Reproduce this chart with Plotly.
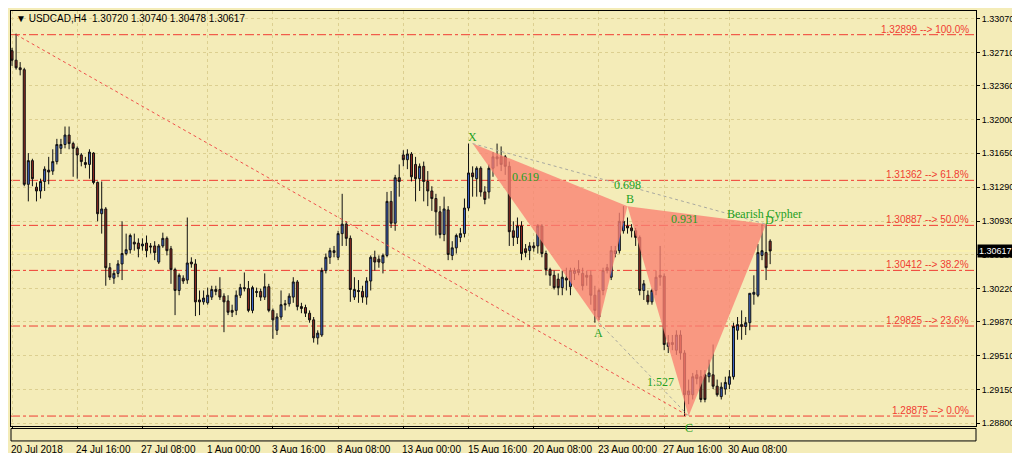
import plotly.graph_objects as go

opens = [1.3273,1.3263,1.3255,1.3253,1.3132,1.3157,1.3129,1.3125,1.3135,1.3147,1.3146,1.3156,1.3170,1.3174,1.3184,1.3175,1.3170,1.3163,1.3155,1.3153,
1.3165,1.3134,1.3101,1.3106,1.3044,1.3033,1.3038,1.3048,1.3059,1.3063,1.3071,1.3070,1.3067,1.3070,1.3067,1.3067,1.3050,1.3067,1.3075,1.3064,
1.3042,1.3020,1.3033,1.3031,1.3050,1.3048,1.3010,1.3008,1.3007,1.3013,1.3021,1.3021,1.3014,1.3009,1.2999,1.2999,1.3015,1.3023,1.3022,1.2999,
1.3019,1.3019,1.3013,1.3024,1.2999,1.2978,1.2992,1.3006,1.3006,1.3013,1.3029,1.3003,1.3002,1.2996,1.2989,1.2970,1.2973,1.3041,1.3055,1.3062,
1.3055,1.3080,1.3090,1.3075,1.3013,1.3020,1.3019,1.3013,1.3030,1.3055,1.3053,1.3049,1.3057,1.3114,1.3091,1.3139,1.3163,1.3158,1.3164,1.3153,
1.3138,1.3151,1.3135,1.3125,1.3117,1.3103,1.3079,1.3105,1.3057,1.3065,1.3076,1.3080,1.3107,1.3144,1.3138,1.3149,1.3124,1.3124,1.3149,1.3161,
1.3161,1.3161,1.3151,1.3083,1.3076,1.3088,1.3064,1.3062,1.3067,1.3067,1.3088,1.3059,1.3042,1.3036,1.3032,1.3023,1.3033,1.3024,1.3038,1.3042,
1.3038,1.3036,1.3036,1.3015,1.2992,1.3020,1.3044,1.3034,1.3059,1.3062,1.3083,1.3088,1.3086,1.3083,1.3076,1.3020,1.3015,1.3008,1.3020,1.3036,
1.3035,1.2961,1.2965,1.2957,1.2973,1.2954,1.2910,1.2910,1.2931,1.2929,1.2931,1.2929,1.2931,1.2919,1.2908,1.2916,1.2921,1.2929,1.2978,1.2984,
1.2982,1.2986,1.3016,1.3015,1.3057,1.3060,1.30720]
highs = [1.3276,1.3291,1.3261,1.3255,1.3165,1.3159,1.3134,1.3138,1.3151,1.3161,1.3169,1.3180,1.3180,1.3193,1.3193,1.3177,1.3172,1.3165,1.3161,1.3169,
1.3166,1.3135,1.3135,1.3108,1.3049,1.3041,1.3052,1.3093,1.3080,1.3080,1.3080,1.3075,1.3075,1.3078,1.3070,1.3072,1.3069,1.3081,1.3077,1.3067,
1.3044,1.3038,1.3036,1.3097,1.3055,1.3053,1.3020,1.3020,1.3023,1.3025,1.3025,1.3034,1.3017,1.3015,1.3005,1.3020,1.3027,1.3039,1.3030,1.3025,
1.3023,1.3022,1.3038,1.3027,1.3001,1.2996,1.3020,1.3010,1.3017,1.3034,1.3031,1.3007,1.3005,1.2999,1.2992,1.2978,1.3044,1.3059,1.3065,1.3067,
1.3083,1.3122,1.3093,1.3078,1.3034,1.3031,1.3025,1.3034,1.3057,1.3062,1.3057,1.3059,1.3124,1.3125,1.3142,1.3153,1.3168,1.3169,1.3166,1.3161,
1.3154,1.3156,1.3146,1.3130,1.3122,1.3109,1.3119,1.3109,1.3072,1.3080,1.3086,1.3117,1.3175,1.3151,1.3151,1.3151,1.3130,1.3153,1.3166,1.3175,
1.3172,1.3163,1.3156,1.3093,1.3097,1.3093,1.3069,1.3071,1.3071,1.3090,1.3090,1.3062,1.3044,1.3041,1.3038,1.3041,1.3044,1.3044,1.3044,1.3052,
1.3044,1.3041,1.3041,1.3025,1.3022,1.3044,1.3048,1.3067,1.3067,1.3102,1.3109,1.3097,1.3090,1.3086,1.3078,1.3031,1.3020,1.3022,1.3041,1.3067,
1.3038,1.2973,1.2973,1.2978,1.2978,1.2957,1.2926,1.2933,1.2936,1.2936,1.2936,1.2947,1.2963,1.2926,1.2923,1.2929,1.2936,1.2986,1.2992,1.2999,
1.2992,1.3017,1.3036,1.3069,1.3090,1.3090,1.30740]
lows = [1.3257,1.3253,1.3247,1.3130,1.3114,1.3130,1.3114,1.3117,1.3125,1.3132,1.3142,1.3153,1.3164,1.3170,1.3169,1.3140,1.3138,1.3151,1.3149,1.3138,
1.3132,1.3093,1.3080,1.3025,1.3031,1.3027,1.3034,1.3031,1.3057,1.3059,1.3062,1.3055,1.3062,1.3055,1.3059,1.3052,1.3048,1.3065,1.3057,1.3027,
1.2994,1.3015,1.3027,1.3027,1.3044,1.2993,1.2994,1.3005,1.3005,1.3010,1.3015,1.3010,1.2976,1.2994,1.2992,1.2994,1.3012,1.3019,1.2997,1.2996,
1.3013,1.3009,1.3010,1.2997,1.2969,1.2973,1.2989,1.2999,1.3003,1.3007,1.2999,1.2996,1.2992,1.2986,1.2965,1.2963,1.2971,1.3038,1.3048,1.3055,
1.3052,1.3067,1.3067,1.3008,1.3010,1.3007,1.3007,1.3005,1.3020,1.3041,1.3044,1.3038,1.3055,1.3086,1.3083,1.3119,1.3151,1.3148,1.3135,1.3114,
1.3125,1.3114,1.3109,1.3104,1.3078,1.3075,1.3072,1.3052,1.3052,1.3059,1.3071,1.3076,1.3104,1.3119,1.3119,1.3119,1.3111,1.3117,1.3140,1.3151,
1.3146,1.3142,1.3067,1.3067,1.3069,1.3052,1.3055,1.3052,1.3061,1.3059,1.3055,1.3036,1.3025,1.3021,1.3015,1.3015,1.3020,1.3015,1.3031,1.3036,
1.3020,1.3025,1.3005,1.2986,1.2989,1.3015,1.3038,1.3031,1.3055,1.3059,1.3080,1.3080,1.3076,1.3067,1.3015,1.3010,1.3005,1.3005,1.3015,1.3025,
1.2957,1.2954,1.2957,1.2952,1.2947,1.28875,1.2900,1.2905,1.2921,1.2902,1.2902,1.2923,1.2916,1.2908,1.2905,1.2910,1.2916,1.2926,1.2968,1.2968,
1.2973,1.2978,1.3005,1.3013,1.3052,1.3031,1.30478]
closes = [1.3263,1.3255,1.3253,1.3132,1.3157,1.3138,1.3125,1.3135,1.3148,1.3145,1.3156,1.3174,1.3174,1.3184,1.3175,1.3170,1.3163,1.3156,1.3153,1.3166,
1.3134,1.3101,1.3106,1.3044,1.3034,1.3038,1.3048,1.3059,1.3063,1.3078,1.3069,1.3064,1.3069,1.3062,1.3066,1.3060,1.3067,1.3075,1.3062,1.3042,
1.3020,1.3036,1.3030,1.3049,1.3048,1.3008,1.3008,1.3012,1.3015,1.3021,1.3019,1.3013,1.3008,1.2997,1.2997,1.3015,1.3023,1.3022,1.2999,1.3023,
1.3018,1.3013,1.3024,1.2999,1.2989,1.2992,1.3005,1.3005,1.3014,1.3029,1.3003,1.3001,1.2996,1.2989,1.2970,1.2975,1.3041,1.3055,1.3062,1.3060,
1.3080,1.3090,1.3075,1.3021,1.3021,1.3019,1.3013,1.3030,1.3055,1.3050,1.3050,1.3057,1.3114,1.3091,1.3139,1.3135,1.3158,1.3164,1.3140,1.3138,
1.3151,1.3135,1.3125,1.3117,1.3103,1.3079,1.3106,1.3058,1.3065,1.3078,1.3080,1.3107,1.3144,1.3140,1.3149,1.3124,1.3116,1.3149,1.3161,1.3159,
1.3153,1.3151,1.3082,1.3076,1.3088,1.3059,1.3060,1.3067,1.3065,1.3088,1.3059,1.3042,1.3036,1.3023,1.3023,1.3034,1.3031,1.3041,1.3041,1.3039,
1.3025,1.3034,1.3015,1.2999,1.3020,1.3041,1.3041,1.3062,1.3062,1.3093,1.3093,1.3086,1.3083,1.3076,1.3020,1.3027,1.3008,1.3020,1.3034,1.3034,
1.2963,1.2965,1.2963,1.2973,1.2954,1.2910,1.2914,1.2929,1.2927,1.2905,1.2905,1.2933,1.2919,1.2910,1.2918,1.2923,1.2929,1.2982,1.2984,1.2982,
1.2986,1.3017,1.3018,1.3060,1.3062,1.3044,1.30617]

date_labels = ["20 Jul 2018","24 Jul 16:00","27 Jul 08:00","1 Aug 00:00","3 Aug 16:00","8 Aug 08:00",
               "13 Aug 00:00","15 Aug 16:00","20 Aug 08:00","23 Aug 00:00","27 Aug 16:00","30 Aug 08:00"]
date_idx = [0,16,32,48,64,80,96,112,128,144,160,176]

price_ticks = [1.33070,1.32710,1.32360,1.32000,1.31650,1.31290,1.30930,1.30580,1.30220,1.29870,1.29510,1.29150,1.28800]

fib_levels = [1.32899,1.31362,1.30887,1.30412,1.29825,1.28875]
fib_pcts = ["100.0%","61.8%","50.0%","38.2%","23.6%","0.0%"]

pat_names = ["X","A","B","C","D"]
pat_idx = [113,144,151,166,185]
pat_price = [1.3175,1.2986,1.3109,1.28875,1.3090]
ratio_labels = ["0.619","0.698","0.931","1.527"]

last_price = 1.30617
trend_start = (1, 1.32899)

n = len(closes)
xs = list(range(n))

BG = "#F4ECB8"
fig = go.Figure()

X, A, B, C, D = [(pat_idx[i], pat_price[i]) for i in range(5)]
for tri in [(X, A, B), (B, C, D)]:
    fig.add_trace(go.Scatter(x=[p[0] for p in tri] + [tri[0][0]], y=[p[1] for p in tri] + [tri[0][1]],
                             mode="lines", fill="toself", fillcolor="rgba(250,128,114,0.78)",
                             line=dict(width=0), hoverinfo="skip", showlegend=False))

for p, q in [(X, D), (A, C)]:
    fig.add_trace(go.Scatter(x=[p[0], q[0]], y=[p[1], q[1]], mode="lines",
                             line=dict(color="#A9A9A0", width=1, dash="dot"), hoverinfo="skip", showlegend=False))

fig.add_trace(go.Scatter(x=[trend_start[0], C[0]], y=[trend_start[1], C[1]], mode="lines",
                         line=dict(color="#F0504A", width=1, dash="dot"), hoverinfo="skip", showlegend=False))

fig.add_trace(go.Candlestick(x=xs, open=opens, high=highs, low=lows, close=closes,
                             increasing=dict(fillcolor="#3E64C8", line=dict(color="#111111", width=1)),
                             decreasing=dict(fillcolor="#8E2A22", line=dict(color="#111111", width=1)),
                             whiskerwidth=0, showlegend=False, hoverinfo="skip"))

shapes = []
for lv in fib_levels:
    shapes.append(dict(type="line", xref="paper", x0=0, x1=1, yref="y", y0=lv, y1=lv,
                       line=dict(color="#F03C32", width=1, dash="dashdot"), layer="below"))
shapes.append(dict(type="line", xref="paper", x0=0, x1=1, yref="y", y0=last_price, y1=last_price,
                   line=dict(color="#FFF6A8", width=1), layer="below"))
shapes.append(dict(type="rect", xref="paper", yref="paper", x0=0, x1=1, y0=-0.036, y1=-0.006,
                   line=dict(color="#000000", width=1), fillcolor=BG))

ann = []
ann.append(dict(xref="paper", yref="paper", x=0.003, y=1.0, xanchor="left", yanchor="top", showarrow=False,
                text="▼ USDCAD,H4  1.30720 1.30740 1.30478 1.30617", font=dict(size=10, color="#000000")))
for lv, pc in zip(fib_levels, fib_pcts):
    ann.append(dict(xref="paper", yref="y", x=0.995, y=lv, xanchor="right", yanchor="bottom", showarrow=False,
                    text=f"{lv:.5f} --> {pc}", font=dict(size=10, color="#F03C32"), yshift=-2))
for di, dl in zip(date_idx, date_labels):
    ann.append(dict(xref="x", yref="paper", x=di, y=-0.036, xanchor="left", yanchor="top", showarrow=False,
                    text=dl, font=dict(size=10, color="#000000"), xshift=-3, yshift=-1))
green = dict(size=12, color="#22A022", family="Liberation Serif")
offs = {"X": (0, 7), "A": (0, -10), "B": (2, 7), "C": (0, -12), "D": (3, 4)}
for nm, i, p in zip(pat_names, pat_idx, pat_price):
    ann.append(dict(x=i, y=p, text=nm, showarrow=False, font=green, xshift=offs[nm][0], yshift=offs[nm][1]))
ratio_pos = [((X[0]+B[0]) / 2 - 6, 1.3140), (151, 1.3131), (165, 1.3095), (159, 1.2923)]
for t, (rx, ry) in zip(ratio_labels, ratio_pos):
    ann.append(dict(x=rx, y=ry, text=t, showarrow=False, font=green))
ann.append(dict(x=D[0] - 10, y=D[1], text="Bearish Cypher", showarrow=False, font=green, xanchor="left", yshift=10))
ann.append(dict(xref="paper", yref="y", x=1.0, y=last_price, xanchor="left", showarrow=False,
                text="1.30617", font=dict(size=9, color="#FFFFFF"), bgcolor="#000000", xshift=1))

fig.update_layout(
    width=1020, height=453, margin=dict(l=3, r=52, t=3, b=35),
    paper_bgcolor=BG, plot_bgcolor=BG,
    font=dict(family="Liberation Sans", size=9, color="#000000"),
    shapes=shapes, annotations=ann, showlegend=False,
    xaxis=dict(range=[-0.25, 236.5], rangeslider=dict(visible=False), tickvals=date_idx,
               ticktext=[""] * len(date_idx), ticks="outside", ticklen=4, tickcolor="#000",
               showgrid=True, gridcolor="#DCCF90", griddash="dot", zeroline=False,
               showline=True, linecolor="#000", mirror=True),
    yaxis=dict(range=[1.2877, 1.33149], side="right", tickvals=price_ticks,
               ticktext=[f"{v:.5f}" for v in price_ticks], ticks="outside", ticklen=3, tickcolor="#000",
               tickfont=dict(size=9), showgrid=True, gridcolor="#DCCF90", griddash="dot", zeroline=False,
               showline=True, linecolor="#000", mirror=True),
)
fig.write_html("out.html")
